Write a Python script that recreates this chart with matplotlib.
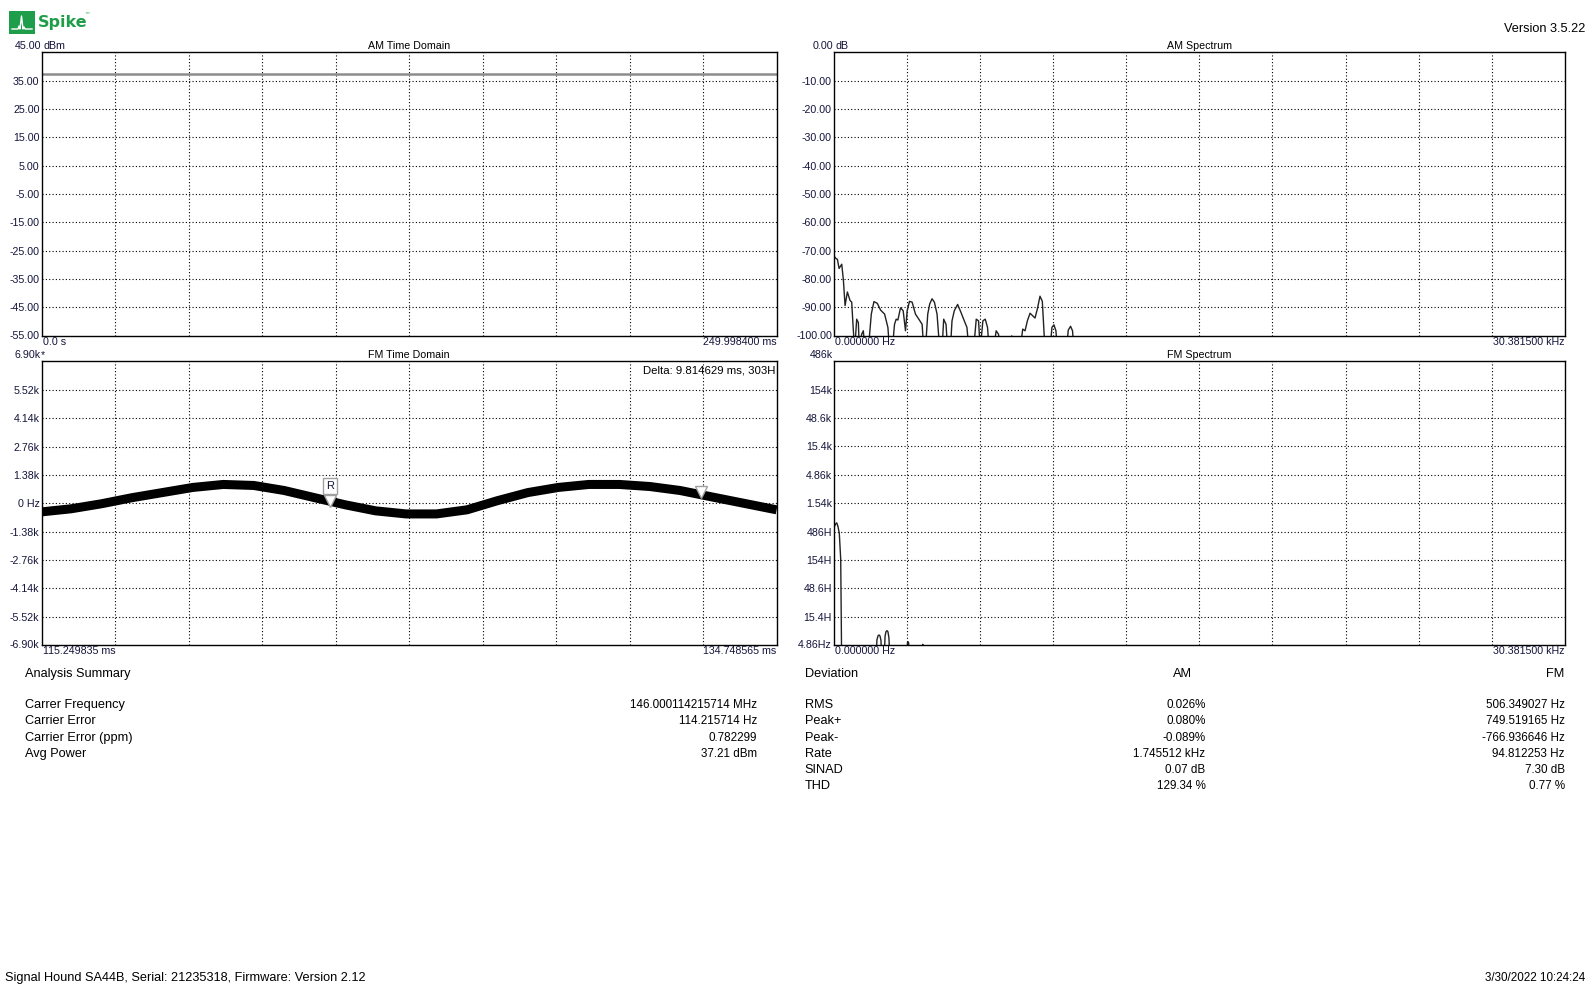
import numpy as np
import matplotlib
matplotlib.use('Agg')
import matplotlib.pyplot as plt
from matplotlib.patches import Rectangle
from matplotlib.lines import Line2D

# AM time domain (dBm vs ms)
am_time_ms = [0.0, 249.9984]
am_time_dbm = [37.21, 37.21]

# AM spectrum (dB vs kHz), values below -100 fall off the bottom of the screen
am_spec_khz = [0.0, 0.069, 0.138, 0.207, 0.318, 0.387, 0.456, 0.552, 0.663, 0.732, 0.801, 0.856,
               0.939, 1.008, 1.050, 1.146, 1.215, 1.284, 1.422, 1.547, 1.657, 1.795, 1.933, 2.099,
               2.237, 2.306, 2.417, 2.513, 2.582, 2.652, 2.762, 2.872, 2.969, 3.038, 3.135, 3.245,
               3.383, 3.522, 3.660, 3.729, 3.798, 3.894, 3.977, 4.074, 4.171, 4.281, 4.392, 4.488,
               4.557, 4.654, 4.723, 4.834, 4.903, 4.999, 5.137, 5.275, 5.386, 5.524, 5.607, 5.800,
               5.911, 6.007, 6.076, 6.187, 6.284, 6.380, 6.449, 6.629, 6.739, 6.836, 6.933, 7.319,
               7.388, 7.457, 7.734, 7.844, 7.941, 8.037, 8.148, 8.258, 8.355, 8.452, 8.562, 8.659,
               8.769, 8.977, 9.059, 9.142, 9.225, 9.280, 9.667, 9.736, 9.833, 9.915, 9.971, 30.3815]
am_spec_db = [-72.0, -72.7, -73.1, -76.3, -74.8, -80.5, -89.4, -84.6, -87.6, -88.2, -98.3, -105,
              -94.2, -95.4, -105, -99.5, -98.3, -105, -105, -92.4, -88.0, -88.6, -91.0, -92.4,
              -97.1, -105, -105, -96.0, -94.2, -94.5, -90.2, -91.2, -98.3, -91.2, -87.9, -88.2,
              -92.4, -94.2, -96.0, -105, -105, -92.4, -88.8, -87.0, -88.2, -92.4, -105, -105,
              -94.2, -96.0, -105, -105, -94.8, -91.2, -89.0, -91.8, -94.2, -97.1, -105, -105,
              -94.2, -94.8, -105, -94.8, -94.2, -97.1, -105, -105, -98.3, -99.5, -105, -105,
              -100.1, -105, -105, -97.7, -98.3, -94.8, -92.1, -93.0, -93.8, -90.6, -86.1, -87.9,
              -105, -105, -97.1, -96.2, -98.3, -105, -105, -98.1, -96.7, -98.3, -105, -105]

# FM time domain (Hz deviation vs ms)
fm_time_ms = [115.250, 116.031, 116.839, 117.647, 118.455, 119.263, 120.071, 120.879, 121.687,
              122.495, 123.303, 124.111, 124.919, 125.727, 126.535, 127.343, 128.151, 128.959,
              129.767, 130.575, 131.383, 132.191, 132.999, 133.807, 134.749]
fm_time_hz = [-420, -270, -25, 270, 520, 770, 915, 865, 620, 270, -75, -370, -520, -520, -320,
              125, 520, 770, 915, 915, 815, 620, 320, 25, -320]

# FM spectrum (Hz vs kHz, log scale)
fm_spec_khz = [0.017, 0.06, 0.108, 0.16, 0.216, 0.275, 0.316, 1.74, 1.78, 1.83, 1.868, 1.91, 1.95,
               1.99, 2.07, 2.12, 2.16, 2.20, 2.24, 2.28, 2.33, 3.02, 3.05, 3.075, 3.10, 3.13, 3.66,
               3.686, 3.71, 30.3815]
fm_spec_hz = [600, 660, 694, 600, 455, 158, 2.0, 2.0, 6.0, 7.1, 7.3, 7.0, 5.8, 2.0, 2.0, 7.0, 8.4,
              8.7, 8.3, 6.5, 2.0, 2.0, 5.3, 5.56, 5.3, 2.0, 2.0, 5.0, 2.0, 2.0]

summary_labels = ['Carrer Frequency', 'Carrier Error', 'Carrier Error (ppm)', 'Avg Power']
summary_values = ['146.000114215714 MHz', '114.215714 Hz', '0.782299', '37.21 dBm']

dev_labels = ['RMS', 'Peak+', 'Peak-', 'Rate', 'SINAD', 'THD']
dev_am = ['0.026%', '0.080%', '-0.089%', '1.745512 kHz', '0.07 dB', '129.34 %']
dev_fm = ['506.349027 Hz', '749.519165 Hz', '-766.936646 Hz', '94.812253 Hz', '7.30 dB', '0.77 %']

W, H = 1591, 988
NAVY = '#14143c'
GREEN = '#1e9e4a'
TICK_FS = 7.7
TXT_FS = 9.2   # words
NUM_FS = 8.4   # numbers

plt.rcParams['font.family'] = ['Liberation Sans', 'DejaVu Sans']

fig = plt.figure(figsize=(W / 100, H / 100), dpi=100)


def fx(x):
    return x / W


def fy(y):
    return 1 - y / H


def panel(left, top, right, bottom):
    return fig.add_axes([fx(left), fy(bottom), (right - left) / W, (bottom - top) / H])


def style(ax, xlim, ylim, yticks, ylabels, top_num, top_unit, bot_label, x_left, x_right, title):
    ax.set_xlim(xlim)
    ax.set_ylim(ylim)
    ax.set_xticks(np.linspace(xlim[0], xlim[1], 11)[1:-1])
    ax.set_xticklabels([])
    ax.set_yticks(yticks)
    ax.set_yticklabels(ylabels)
    ax.minorticks_off()
    ax.tick_params(length=0, pad=1.5, labelsize=TICK_FS, labelcolor=NAVY)
    ax.grid(True, color='black', lw=0.8, linestyle=(0, (1, 2)))
    for s in ax.spines.values():
        s.set_linewidth(1.0)
    ax.annotate(top_num, xy=(0, 1), xycoords='axes fraction', xytext=(-0.5, 1),
                textcoords='offset points', ha='right', va='bottom', fontsize=TICK_FS, color=NAVY)
    if top_unit:
        ax.annotate(top_unit, xy=(0, 1), xycoords='axes fraction', xytext=(1.2, 1),
                    textcoords='offset points', ha='left', va='bottom', fontsize=TICK_FS, color=NAVY)
    ax.annotate(bot_label, xy=(0, 0), xycoords='axes fraction', xytext=(-1.5, 0),
                textcoords='offset points', ha='right', va='center', fontsize=TICK_FS, color=NAVY)
    ax.annotate(x_left, xy=(0, 0), xycoords='axes fraction', xytext=(1, -1),
                textcoords='offset points', ha='left', va='top', fontsize=TICK_FS, color=NAVY)
    ax.annotate(x_right, xy=(1, 0), xycoords='axes fraction', xytext=(0, -1),
                textcoords='offset points', ha='right', va='top', fontsize=TICK_FS, color=NAVY)
    ax.annotate(title, xy=(0.5, 1), xycoords='axes fraction', xytext=(0, 1),
                textcoords='offset points', ha='center', va='bottom', fontsize=TICK_FS, color='black')


# AM Time Domain
ax1 = panel(41.6, 52.3, 776.6, 335.6)
ax1.plot(am_time_ms, am_time_dbm, color='#8c8c8c', lw=1.8)
style(ax1, (0, 249.9984), (-55, 45), [35, 25, 15, 5, -5, -15, -25, -35, -45],
      ['35.00', '25.00', '15.00', '5.00', '-5.00', '-15.00', '-25.00', '-35.00', '-45.00'],
      '45.00', 'dBm', '-55.00', '0.0 s', '249.998400 ms', 'AM Time Domain')

# AM Spectrum
ax2 = panel(834.1, 52.3, 1564.7, 335.6)
ax2.plot(am_spec_khz, am_spec_db, color='#222222', lw=1.0)
style(ax2, (0, 30.3815), (-100, 0), [-10, -20, -30, -40, -50, -60, -70, -80, -90],
      ['-10.00', '-20.00', '-30.00', '-40.00', '-50.00', '-60.00', '-70.00', '-80.00', '-90.00'],
      '0.00', 'dB', '-100.00', '0.000000 Hz', '30.381500 kHz', 'AM Spectrum')

# FM Time Domain
ax3 = panel(41.6, 361.5, 776.6, 645.0)
ax3.plot(fm_time_ms, fm_time_hz, color='black', lw=6.5, solid_capstyle='butt', solid_joinstyle='round')
style(ax3, (115.249835, 134.748565), (-6900, 6900),
      [5520, 4140, 2760, 1380, 0, -1380, -2760, -4140, -5520],
      ['5.52k', '4.14k', '2.76k', '1.38k', '0 Hz', '-1.38k', '-2.76k', '-4.14k', '-5.52k'],
      '6.90k', '', '-6.90k', '115.249835 ms', '134.748565 ms', 'FM Time Domain')
ax3.annotate('*', xy=(0, 1), xycoords='axes fraction', xytext=(-0.6, 1),
             textcoords='offset points', ha='left', va='bottom', fontsize=TICK_FS, color=NAVY)
# reference marker and delta marker
ax3.plot([122.90], [120], marker='v', ms=8, mfc='white', mec='#a0a0a0', mew=1, zorder=5)
ax3.annotate('R', xy=(122.90, 120), xytext=(0, 7), textcoords='offset points', ha='center',
             va='bottom', fontsize=8, color=NAVY, zorder=6,
             bbox=dict(boxstyle='square,pad=0.3', fc='white', ec='#a0a0a0', lw=1))
ax3.plot([132.73], [570], marker='v', ms=9, mfc='white', mec='#a0a0a0', mew=1, zorder=5)
ax3.text(0.999, 0.985, 'Delta: 9.814629 ms, 303H', transform=ax3.transAxes, ha='right', va='top',
         fontsize=8.2, color='black')

# FM Spectrum
ax4 = panel(834.1, 361.5, 1564.7, 645.0)
ax4.set_yscale('log')
ax4.plot(fm_spec_khz, fm_spec_hz, color='#222222', lw=1.0)
style(ax4, (0, 30.3815), (4.86, 486000),
      [154000, 48600, 15400, 4860, 1540, 486, 154, 48.6, 15.4],
      ['154k', '48.6k', '15.4k', '4.86k', '1.54k', '486H', '154H', '48.6H', '15.4H'],
      '486k', '', '4.86Hz', '0.000000 Hz', '30.381500 kHz', 'FM Spectrum')

# logo
fig.patches.append(Rectangle((fx(9), fy(34.3)), 26 / W, 23.3 / H, transform=fig.transFigure,
                             fc=GREEN, ec='none'))
logo_x = [12, 18, 19, 20, 21.5, 23, 24, 25, 32]
logo_y = [29, 29, 26, 29, 16, 29, 27, 29, 29]
fig.lines.append(Line2D([fx(v) for v in logo_x], [fy(v) for v in logo_y], transform=fig.transFigure,
                        color='white', lw=1.0))
fig.text(fx(37.5), fy(23), 'Spike', fontsize=11.5, weight='bold', color=GREEN, va='center',
         family='DejaVu Sans')
fig.text(fx(84), fy(16), '™', fontsize=4, color=GREEN, va='center', family='DejaVu Sans')

fig.text(fx(1585), fy(29.4), 'Version 3.5.22', ha='right', va='center', fontsize=TXT_FS)

# analysis summary
fig.text(fx(25.4), fy(673.7), 'Analysis Summary', va='center', fontsize=TXT_FS)
row_y = [705.2, 721.4, 737.7, 753.9, 770.1, 786.4]
for i, (lab, val) in enumerate(zip(summary_labels, summary_values)):
    fig.text(fx(25.4), fy(row_y[i]), lab, va='center', fontsize=TXT_FS)
    fig.text(fx(757), fy(row_y[i]), val, va='center', ha='right', fontsize=NUM_FS)

fig.text(fx(804.7), fy(673.7), 'Deviation', va='center', fontsize=TXT_FS)
fig.text(fx(1182), fy(673.7), 'AM', va='center', ha='center', fontsize=TXT_FS)
fig.text(fx(1564.7), fy(673.7), 'FM', va='center', ha='right', fontsize=TXT_FS)
for i, lab in enumerate(dev_labels):
    fig.text(fx(804.7), fy(row_y[i]), lab, va='center', fontsize=TXT_FS)
    fig.text(fx(1205.5), fy(row_y[i]), dev_am[i], va='center', ha='right', fontsize=NUM_FS)
    fig.text(fx(1564.7), fy(row_y[i]), dev_fm[i], va='center', ha='right', fontsize=NUM_FS)

fig.text(fx(5), fy(978.2), 'Signal Hound SA44B, Serial: 21235318, Firmware: Version 2.12',
         va='center', fontsize=TXT_FS)
fig.text(fx(1585), fy(978.2), '3/30/2022 10:24:24', va='center', ha='right', fontsize=NUM_FS)

fig.savefig('out.png', dpi=100)
